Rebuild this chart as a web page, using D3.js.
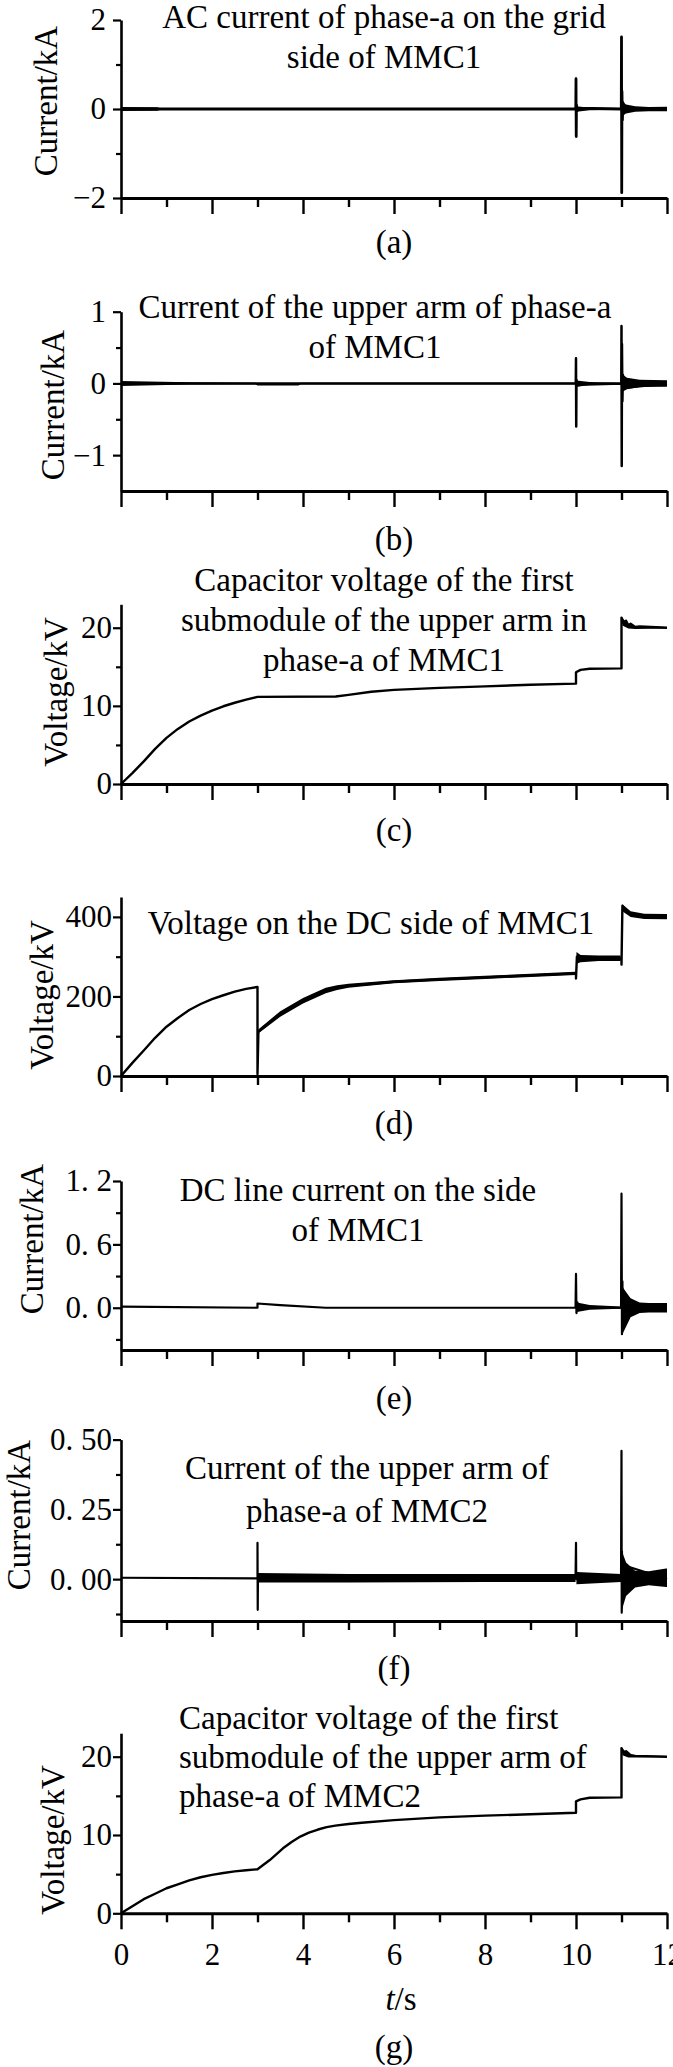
<!DOCTYPE html>
<html><head><meta charset="utf-8">
<script src="https://cdn.jsdelivr.net/npm/d3@7"></script>
<style>
body{margin:0;background:#fff}
svg{display:block}
text{font-family:"Liberation Serif","Times New Roman",serif;fill:#000}
</style>
</head><body>
<svg id="c" width="673" height="2067"></svg>
<script>
// ---------- shared time axis ----------
const timeMajor = [0,2,4,6,8,10,12];
const timeMinor = [1,3,5,7,9,11];
const timeLabels = ["0","2","4","6","8","10","12"];

// ---------- (a) AC current of phase-a, grid side, MMC1 ----------
const aTitle = ["AC current of phase-a on the grid","side of MMC1"];
const aMajor = [-2,0,2], aMinor = [-1,1], aLabels = ["\u22122","0","2"];
const aTrace = [[0,0],[9.995,0],[10.0,0.68],[10.005,-0.62],[10.01,0.1],[10.02,-0.05],[10.04,0.02],[10.995,0],[11.0,1.62],[11.005,-1.88],[11.01,0.4],[11.02,-0.25],[11.03,0.15],[11.05,-0.1],[11.08,0.06],[11.12,0],[12,0]];
const aBands = [
  [[0,-0.045,0.045],[0.8,-0.04,0.04],[0.85,-0.025,0.025],[9.99,-0.025,0.025]],
  [[10.01,-0.06,0.06],[10.3,-0.03,0.03],[10.99,-0.02,0.02]],
  [[11.01,-0.14,0.18],[11.1,-0.1,0.1],[11.3,-0.06,0.06],[11.6,-0.05,0.045],[12,-0.05,0.05]]
];

// ---------- (b) upper arm current phase-a MMC1 ----------
const bTitle = ["Current of the upper arm of phase-a","of MMC1"];
const bMajor = [-1,0,1], bMinor = [-0.5,0.5], bLabels = ["\u22121","0","1"];
const bTrace = [[0,0],[9.995,0],[10.0,0.35],[10.005,-0.6],[10.01,0.05],[10.03,-0.02],[10.995,0],[11.0,0.8],[11.005,-1.15],[11.01,0.55],[11.02,-0.25],[11.03,0.12],[11.06,-0.06],[12,0]];
const bBands = [
  [[0,-0.035,0.035],[1.5,-0.015,0.015],[2.95,-0.01,0.01],[3.0,-0.03,0.0],[3.9,-0.03,0.0],[3.95,-0.01,0.01],[9.99,-0.01,0.01]],
  [[10.01,-0.05,0.04],[10.3,-0.02,0.02],[10.99,-0.012,0.012]],
  [[11.01,-0.12,0.13],[11.12,-0.08,0.08],[11.4,-0.05,0.05],[12,-0.045,0.045]]
];

// ---------- (c) capacitor voltage SM1, upper arm phase-a MMC1 ----------
const cTitle = ["Capacitor voltage of the first","submodule of the upper arm in","phase-a of MMC1"];
const cMajor = [0,10,20], cMinor = [5,15], cLabels = ["0","10","20"];
const cTrace = [[0,0],[0.25,1.4],[0.5,2.9],[0.75,4.5],[1.0,5.9],[1.25,7.05],[1.5,8.0],[1.75,8.75],[2.0,9.4],[2.25,9.95],[2.5,10.4],[2.75,10.8],[3.0,11.15],[4.72,11.2],[5.0,11.4],[5.5,11.8],[6.0,12.05],[7.0,12.3],[8.0,12.5],[9.0,12.7],[10.0,12.85],[10.0,14.3],[10.1,14.6],[10.3,14.75],[11.0,14.8],[11.0,21.3],[11.05,20.6],[11.1,20.9],[11.15,20.3],[11.2,20.5],[11.3,20.1],[11.4,20.15],[12,20.0]];
const cBands = [
  [[11.02,20.3,21.2],[11.15,19.9,20.5],[11.3,19.85,20.2],[12,19.9,20.1]]
];

// ---------- (d) DC side voltage MMC1 ----------
const dTitle = ["Voltage on the DC side of MMC1"];
const dMajor = [0,200,400], dMinor = [100,300], dLabels = ["0","200","400"];
const dTrace = [[0,0],[0.25,33],[0.5,64],[0.75,96],[1.0,124],[1.25,146],[1.5,166],[1.75,181],[2.0,193],[2.25,203],[2.5,212],[2.75,219],[3.0,224],[3.0,5],[3.02,112],[3.5,156],[4.06,191],[4.6,218],[5.0,227],[6.0,237],[7.0,243],[8.0,248],[9.0,253],[10.0,258],[10.0,245],[10.02,300],[10.1,293],[11.0,296],[11.0,280],[11.02,428],[11.1,412],[11.3,404],[12,400]];
const dBands = [
  [[3.03,108,118],[3.5,149,163],[4.0,182,196],[4.5,208,222],[4.75,216,228],[5.0,222,232],[6,233,241],[7,239,247],[8,244,252],[9,249,257],[9.99,254,262]],
  [[10.01,282,312],[10.1,286,304],[10.5,289,303],[10.98,289,303]],
  [[11.02,414,432],[11.2,400,414],[11.5,395,408],[12,394,407]]
];

// ---------- (e) DC line current MMC1 side ----------
const eTitle = ["DC line current on the side","of MMC1"];
const eMajor = [0,0.6,1.2], eMinor = [-0.3,0.3,0.9], eLabels = ["0. 0","0. 6","1. 2"];
const eTrace = [[0,0.01],[3.0,0.0],[3.0,0.04],[3.5,0.025],[4.5,0.0],[9.99,0.0],[10.0,0.32],[10.01,-0.05],[10.03,0.05],[10.05,0.0],[10.99,0.0],[11.0,1.08],[11.01,-0.25],[11.02,0.25],[11.03,-0.2],[11.05,0.15],[11.08,-0.1],[11.12,0.1],[11.2,0.0],[12,0.0]];
const eBands = [
  [[10.02,-0.04,0.05],[10.3,-0.02,0.025],[10.99,-0.01,0.012]],
  [[11.02,-0.25,0.2],[11.1,-0.18,0.15],[11.2,-0.09,0.09],[11.4,-0.05,0.05],[11.6,-0.045,0.045],[12,-0.045,0.045]]
];

// ---------- (f) upper arm current phase-a MMC2 ----------
const fTitle = ["Current of the upper arm of","phase-a of MMC2"];
const fMajor = [0,0.25,0.5], fMinor = [-0.125,0.125,0.375], fLabels = ["0. 00","0. 25","0. 50"];
const fTrace = [[0,0.005],[3.0,0.003],[3.0,0.13],[3.005,-0.11],[3.01,0.01],[9.99,0.005],[10.0,0.13],[10.005,0.0],[10.99,0.005],[11.0,0.46],[11.005,-0.12],[11.01,0.1],[11.02,-0.08],[11.05,0.05],[12,0.0]];
const fBands = [
  [[3.01,-0.012,0.022],[5,-0.012,0.018],[8,-0.01,0.018],[9.99,-0.01,0.018]],
  [[10.01,-0.018,0.026],[10.99,-0.01,0.018]],
  [[11.01,-0.11,0.1],[11.1,-0.06,0.06],[11.3,-0.03,0.03],[11.6,-0.022,0.028],[11.98,-0.028,0.038],[12,-0.028,0.038]]
];

// ---------- (g) capacitor voltage SM1, upper arm phase-a MMC2 ----------
const gTitle = ["Capacitor voltage of the first","submodule of the upper arm of","phase-a of MMC2"];
const gMajor = [0,10,20], gMinor = [5,15], gLabels = ["0","10","20"];
const gTrace = [[0,0],[0.25,0.9],[0.5,1.8],[0.75,2.5],[1.0,3.2],[1.25,3.7],[1.5,4.2],[1.75,4.6],[2.0,4.9],[2.25,5.15],[2.5,5.35],[2.75,5.5],[3.0,5.62],[3.27,6.8],[3.56,8.3],[3.75,9.1],[3.94,9.8],[4.13,10.3],[4.33,10.7],[4.52,11.0],[4.71,11.2],[5.0,11.4],[5.29,11.57],[6.0,11.9],[7.0,12.25],[8.0,12.47],[9.0,12.65],[10.0,12.85],[10.0,14.3],[10.1,14.55],[10.3,14.75],[11.0,14.8],[11.0,21.1],[11.05,20.5],[11.1,20.7],[11.2,20.2],[11.3,20.1],[12,20.0]];
const gBands = [
  [[11.02,20.2,21.0],[11.15,19.9,20.4],[11.3,19.9,20.15],[12,19.92,20.08]]
];

// ---------- layout ----------
const X0 = 121, X1 = 667;
const x = d3.scaleLinear().domain([0,12]).range([X0,X1]);

const panels = [
  {title:aTitle, major:aMajor, minor:aMinor, labels:aLabels, trace:aTrace, bands:aBands, letter:"(a)", yLabel:"Current/kA",
   dom:[-2,2], rng:[198,20], lw:2.8, pad:7, ylx:57, yly:101, tx:384, ty:[28,68], anchor:"middle", ly:253},
  {title:bTitle, major:bMajor, minor:bMinor, labels:bLabels, trace:bTrace, bands:bBands, letter:"(b)", yLabel:"Current/kA",
   dom:[-1.5,1], rng:[491,311.7], lw:2.5, pad:7, ylx:64, yly:405, tx:375, ty:[318,358], anchor:"middle", ly:550},
  {title:cTitle, major:cMajor, minor:cMinor, labels:cLabels, trace:cTrace, bands:cBands, letter:"(c)", yLabel:"Voltage/kV",
   dom:[0,23], rng:[784,604.3], lw:2.4, pad:1, ylx:67, yly:692, tx:384, ty:[591,631,671], anchor:"middle", ly:841},
  {title:dTitle, major:dMajor, minor:dMinor, labels:dLabels, trace:dTrace, bands:dBands, letter:"(d)", yLabel:"Voltage/kV",
   dom:[0,450], rng:[1076,897], lw:2.4, pad:1, ylx:53, yly:995, tx:371, ty:[934], anchor:"middle", ly:1134},
  {title:eTitle, major:eMajor, minor:eMinor, labels:eLabels, trace:eTrace, bands:eBands, letter:"(e)", yLabel:"Current/kA",
   dom:[-0.4,1.2], rng:[1350,1181], lw:2.2, pad:1, ylx:43, yly:1239, tx:358, ty:[1201,1241], anchor:"middle", ly:1409},
  {title:fTitle, major:fMajor, minor:fMinor, labels:fLabels, trace:fTrace, bands:fBands, letter:"(f)", yLabel:"Current/kA",
   dom:[-0.15,0.5], rng:[1621,1439.6], lw:2.2, pad:1, ylx:30, yly:1515, tx:367, ty:[1479,1522], anchor:"middle", ly:1679},
  {title:gTitle, major:gMajor, minor:gMinor, labels:gLabels, trace:gTrace, bands:gBands, letter:"(g)", yLabel:"Voltage/kV",
   dom:[0,23], rng:[1913.3,1733.2], lw:2.4, pad:1, ylx:64, yly:1840, tx:179, ty:[1729,1768,1807], anchor:"start", ly:2058, xLabels:true}
];

const svg = d3.select("#c");
const FS = 33, TFS = 31;

panels.forEach(p => {
  const y = d3.scaleLinear().domain(p.dom).range(p.rng);
  const g = svg.append("g");
  const yBase = p.rng[0];

  // noise bands
  const area = d3.area().x(d => x(d[0])).y0(d => y(d[1])).y1(d => y(d[2]));
  p.bands.forEach(b => g.append("path").attr("d", area(b)).attr("fill", "#000"));

  // trace
  const line = d3.line().x(d => x(d[0])).y(d => y(d[1]));
  g.append("path").attr("d", line(p.trace)).attr("fill","none").attr("stroke","#000")
    .attr("stroke-width", p.lw).attr("stroke-linejoin","round");

  // y axis (major)
  const yAx = g.append("g").attr("transform", `translate(${X0},0)`)
    .call(d3.axisLeft(y).tickValues(p.major).tickSize(8).tickSizeOuter(0).tickPadding(p.pad)
      .tickFormat((d,i) => p.labels[i]));
  yAx.select(".domain").attr("stroke-width", 2.6);
  yAx.selectAll(".tick line").attr("stroke-width", 2.2);
  yAx.selectAll("text").style("font-size", TFS+"px").style("font-family", '"Liberation Serif",serif');
  // y axis minor
  const yMin = g.append("g").attr("transform", `translate(${X0},0)`)
    .call(d3.axisLeft(y).tickValues(p.minor).tickSize(5).tickSizeOuter(0).tickFormat(""));
  yMin.select(".domain").remove();
  yMin.selectAll(".tick line").attr("stroke-width", 2.2);

  // x axis
  const xAx = g.append("g").attr("transform", `translate(0,${yBase})`)
    .call(d3.axisBottom(x).tickValues(timeMajor).tickSize(16).tickSizeOuter(0).tickPadding(14)
      .tickFormat((d,i) => p.xLabels ? timeLabels[i] : ""));
  xAx.select(".domain").attr("stroke-width", 3);
  xAx.selectAll(".tick line").attr("stroke-width", 2.4);
  xAx.selectAll("text").style("font-size", TFS+"px").style("font-family", '"Liberation Serif",serif');
  const xMin = g.append("g").attr("transform", `translate(0,${yBase})`)
    .call(d3.axisBottom(x).tickValues(timeMinor).tickSize(9).tickSizeOuter(0).tickFormat(""));
  xMin.select(".domain").remove();
  xMin.selectAll(".tick line").attr("stroke-width", 2.4);

  // y label
  g.append("text").attr("transform", `translate(${p.ylx},${p.yly}) rotate(-90)`)
    .attr("text-anchor","middle").style("font-size", FS+"px").text(p.yLabel);

  // title lines
  p.title.forEach((t,i) => {
    g.append("text").attr("x", p.tx).attr("y", p.ty[i]).attr("text-anchor", p.anchor)
      .style("font-size", FS+"px").text(t);
  });

  // panel letter
  g.append("text").attr("x", (X0+X1)/2).attr("y", p.ly).attr("text-anchor","middle")
    .style("font-size", FS+"px").text(p.letter);

  if (p.xLabels) {
    const xt = g.append("text").attr("x", (X0+X1)/2 + 7).attr("y", 2010).attr("text-anchor","middle")
      .style("font-size", FS+"px");
    xt.append("tspan").style("font-style","italic").text("t");
    xt.append("tspan").text("/s");
  }
});
</script>
</body></html>
